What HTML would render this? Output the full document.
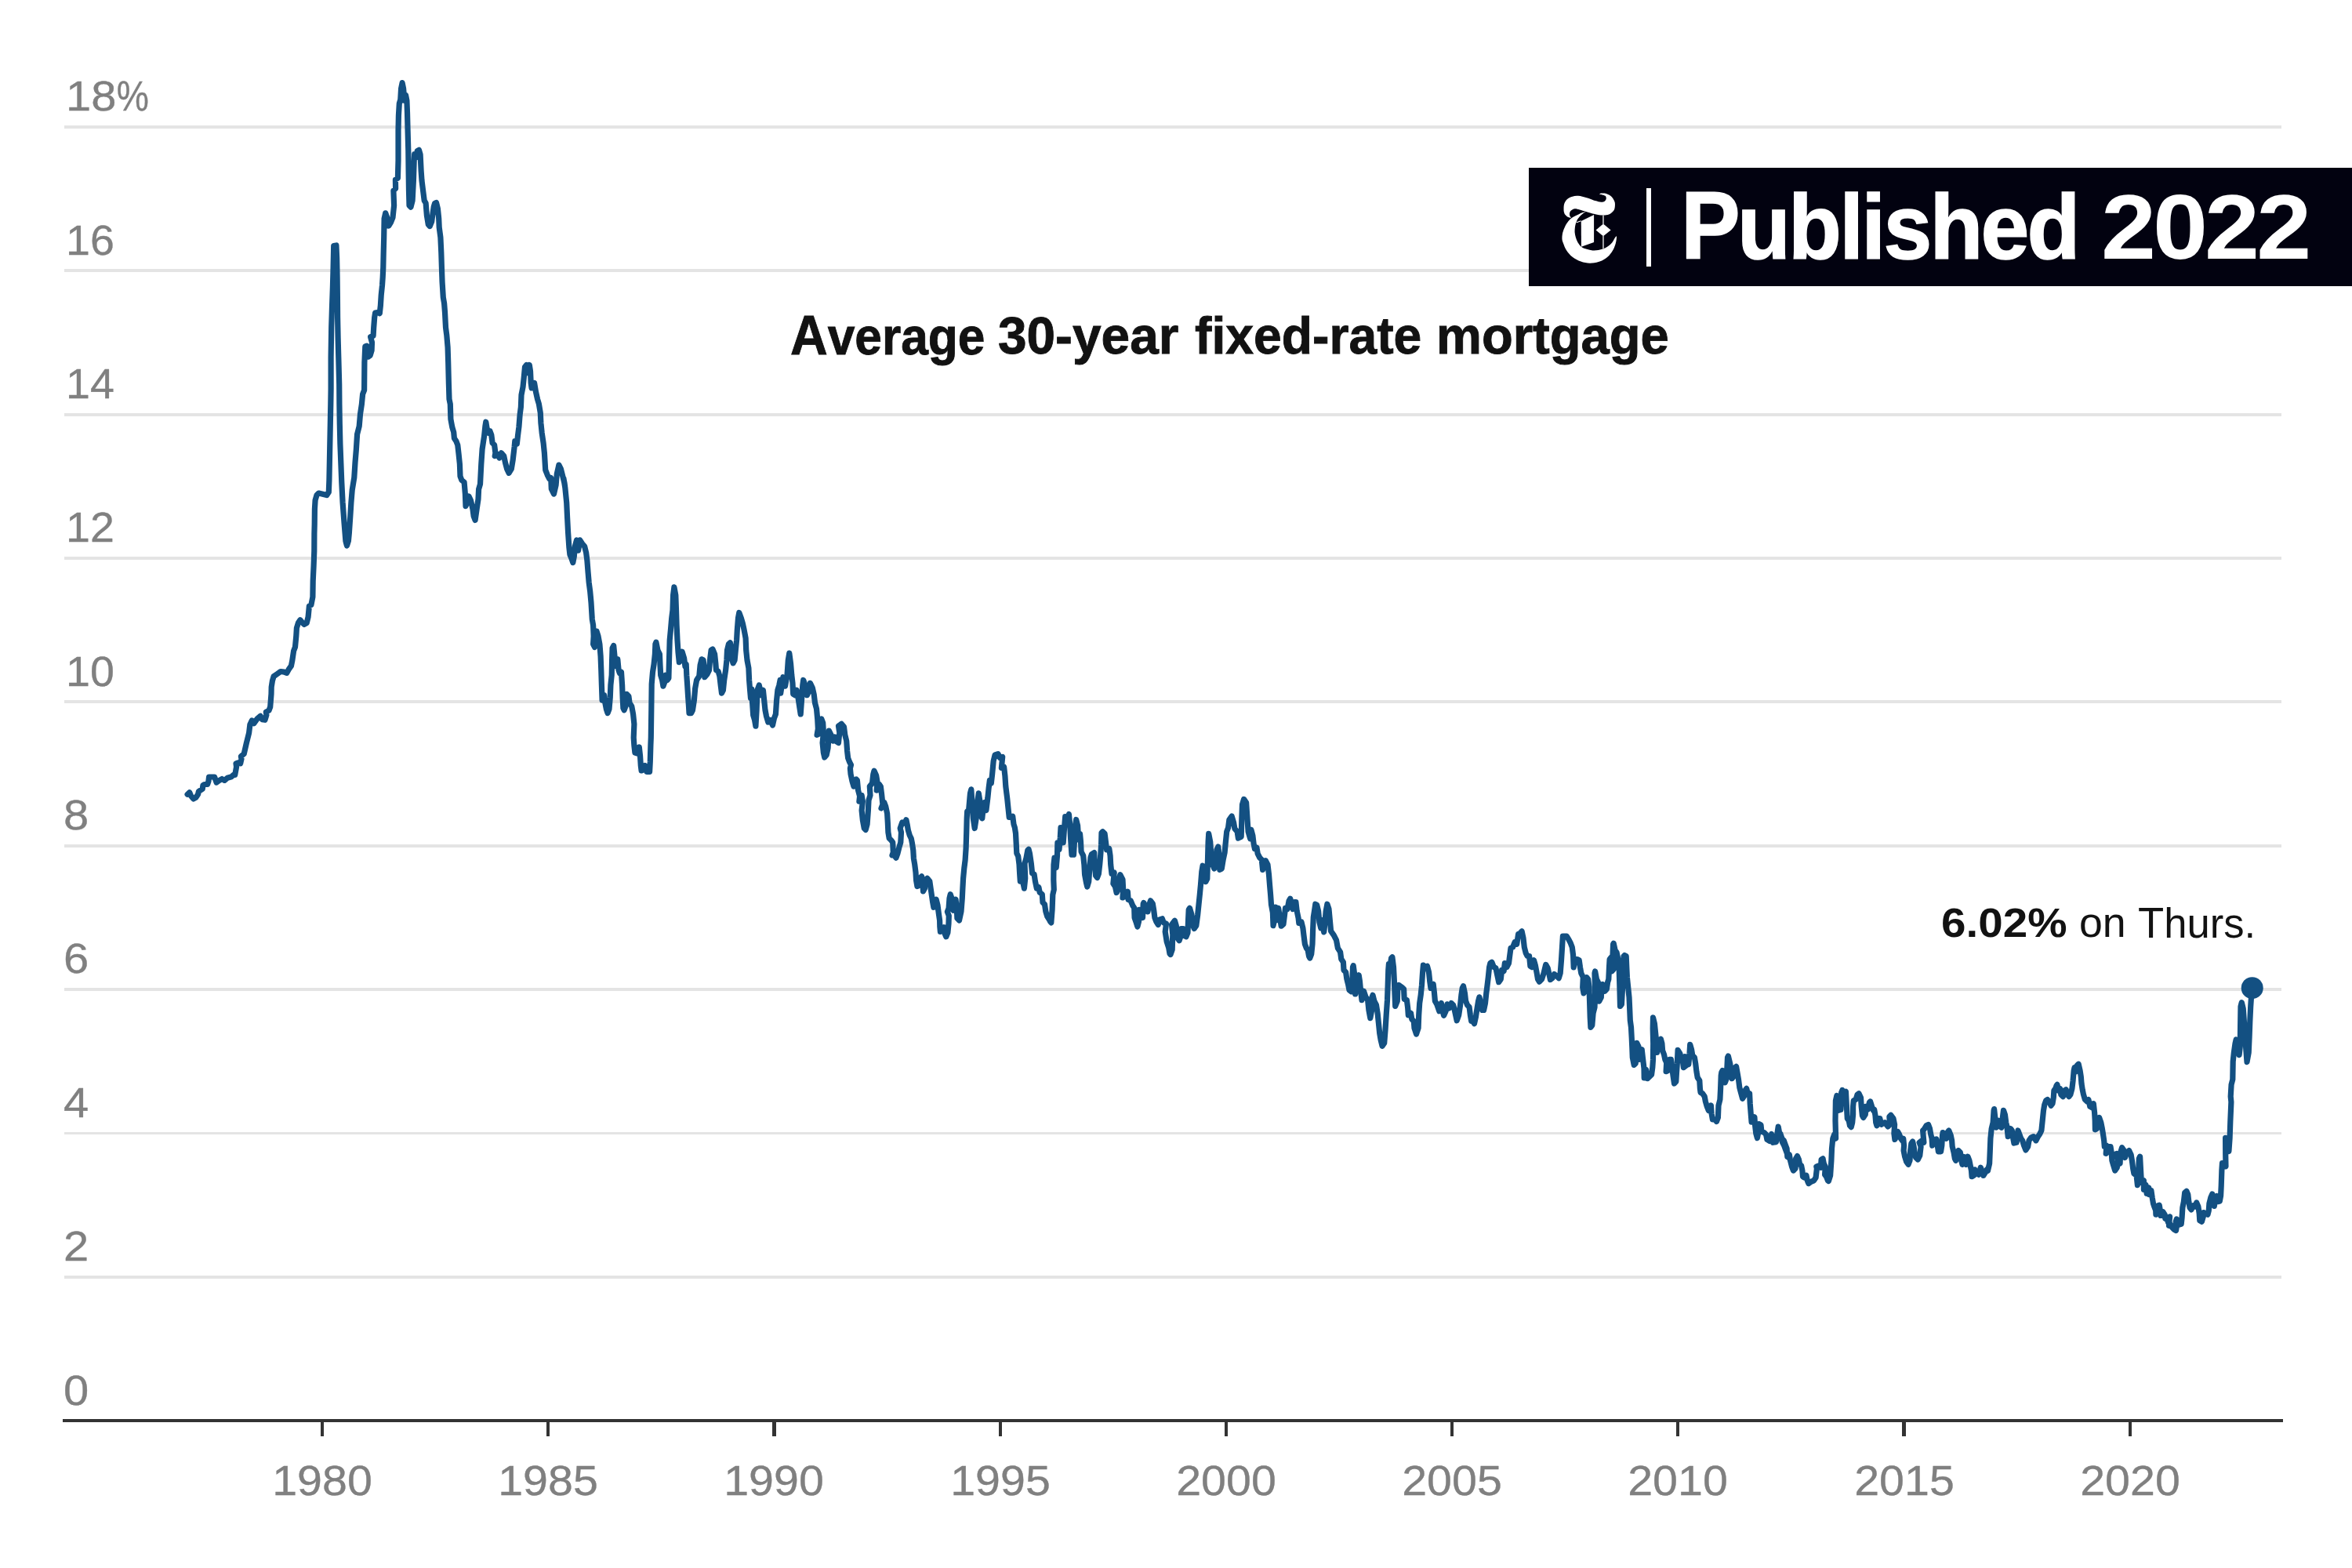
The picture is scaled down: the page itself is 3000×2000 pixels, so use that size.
<!DOCTYPE html>
<html><head><meta charset="utf-8"><title>Average 30-year fixed-rate mortgage</title>
<style>
html,body{margin:0;padding:0;background:#fff;}
body{width:3000px;height:2000px;position:relative;overflow:hidden;font-family:"Liberation Sans",sans-serif;}
.g{position:absolute;left:82px;width:2828px;height:3.8px;background:#e4e4e4;}
.yl{position:absolute;left:80px;font-size:53.6px;line-height:48px;height:48px;color:#808080;-webkit-text-stroke:0.35px #808080;white-space:nowrap;transform-origin:0 50%;transform:scaleX(1.08);}
.pc{display:inline-block;transform-origin:0 50%;transform:scaleX(0.80);margin-left:0px}
.ax{position:absolute;left:80px;width:2832px;top:1810.00px;height:4.2px;background:#333;}
.t{position:absolute;top:1812.10px;width:4.2px;height:19.8px;background:#333;}
.xl{position:absolute;top:1861.3px;width:200px;text-align:center;font-size:53.6px;line-height:54px;color:#808080;-webkit-text-stroke:0.35px #808080;transform:scaleX(1.07);}
svg{position:absolute;left:0;top:0;}
.ban{position:absolute;left:1950px;top:214px;width:1050px;height:150.5px;background:#020210;}
.sep{position:absolute;left:2100.1px;top:239.8px;width:5.6px;height:100.3px;background:#fff;}
.pub{position:absolute;left:2143.6px;top:214px;height:150px;line-height:150px;font-size:116px;font-weight:bold;color:#fff;white-space:nowrap;transform-origin:0 50%;transform:scaleX(0.9515);}
.ttl{position:absolute;left:1008px;top:378.2px;font-size:66px;line-height:100px;font-weight:bold;color:#121212;-webkit-text-stroke:0.9px #121212;white-space:nowrap;transform-origin:0 50%;transform:scaleX(0.96);}
.ann{position:absolute;left:2476px;top:1141.8px;font-size:52.5px;line-height:70px;color:#121212;white-space:nowrap;transform-origin:0 50%;}
</style></head><body>
<div class="g" style="top:1626.85px"></div>
<div class="g" style="top:1443.50px"></div>
<div class="g" style="top:1260.15px"></div>
<div class="g" style="top:1076.80px"></div>
<div class="g" style="top:893.45px"></div>
<div class="g" style="top:710.10px"></div>
<div class="g" style="top:526.75px"></div>
<div class="g" style="top:343.40px"></div>
<div class="g" style="top:160.05px"></div>
<div class="yl" style="top:1748.50px;left:81.4px">0</div>
<div class="yl" style="top:1565.15px;left:81.4px">2</div>
<div class="yl" style="top:1381.80px;left:81.4px">4</div>
<div class="yl" style="top:1198.45px;left:81.4px">6</div>
<div class="yl" style="top:1015.10px;left:81.4px">8</div>
<div class="yl" style="top:831.75px;left:84.3px;transform:scaleX(1.037)">10</div>
<div class="yl" style="top:648.40px;left:84.3px;transform:scaleX(1.037)">12</div>
<div class="yl" style="top:465.05px;left:84.3px;transform:scaleX(1.037)">14</div>
<div class="yl" style="top:281.70px;left:84.3px;transform:scaleX(1.037)">16</div>
<div class="yl" style="top:98.35px;left:84px">18<span class="pc">%</span></div>
<div class="ax"></div>
<div class="t" style="left:408.90px"></div><div class="xl" style="left:311.00px">1980</div>
<div class="t" style="left:697.12px"></div><div class="xl" style="left:599.23px">1985</div>
<div class="t" style="left:985.35px"></div><div class="xl" style="left:887.45px">1990</div>
<div class="t" style="left:1273.58px"></div><div class="xl" style="left:1175.68px">1995</div>
<div class="t" style="left:1561.80px"></div><div class="xl" style="left:1463.90px">2000</div>
<div class="t" style="left:1850.03px"></div><div class="xl" style="left:1752.12px">2005</div>
<div class="t" style="left:2138.25px"></div><div class="xl" style="left:2040.35px">2010</div>
<div class="t" style="left:2426.47px"></div><div class="xl" style="left:2328.57px">2015</div>
<div class="t" style="left:2714.70px"></div><div class="xl" style="left:2616.80px">2020</div>

<svg width="3000" height="2000" viewBox="0 0 3000 2000">
<path d="M239.1 1013.3 L241.7 1010.7 L243.6 1015.2 L246.8 1019.0 L250.0 1017.1 L252.5 1013.3 L253.4 1009.5 L258.3 1006.3 L258.9 1001.8 L260.8 1000.5 L264.6 1000.5 L265.9 996.7 L266.6 991.0 L273.6 991.0 L276.1 998.0 L279.9 995.4 L283.1 993.5 L286.3 995.4 L290.1 992.2 L295.3 990.7 L297.8 988.4 L299.7 988.4 L301.6 978.2 L301.0 973.8 L303.6 972.9 L306.7 973.8 L308.0 968.0 L307.4 964.8 L311.2 961.6 L314.4 947.6 L317.6 934.9 L318.9 924.0 L321.4 918.9 L323.9 922.7 L328.4 916.4 L332.2 913.2 L334.2 917.6 L338.0 918.3 L339.9 911.9 L339.3 908.1 L343.1 906.1 L344.7 901.7 L346.0 885.1 L346.2 876.2 L347.4 868.6 L349.1 862.8 L353.6 859.6 L358.0 856.5 L362.5 857.1 L365.7 858.4 L368.2 853.9 L371.4 849.4 L372.7 843.1 L374.6 830.3 L376.5 825.2 L377.8 811.2 L378.4 801.0 L380.4 794.6 L382.9 790.8 L385.5 794.0 L388.0 796.5 L391.2 794.6 L393.1 786.9 L394.4 772.9 L396.9 771.6 L398.9 761.4 L399.2 741.0 L400.1 721.9 L400.8 702.8 L400.9 681.3 L401.2 668.6 L401.4 649.4 L402.1 638.0 L404.0 631.6 L406.5 629.0 L411.6 630.3 L416.7 631.6 L419.3 627.8 L419.9 612.5 L420.3 592.0 L420.8 566.5 L421.3 541.0 L421.8 515.5 L422.1 496.4 L422.1 455.8 L422.7 417.6 L423.5 392.0 L424.4 366.5 L425.1 341.0 L425.7 313.6 L428.9 313.0 L429.6 328.3 L430.1 353.8 L430.4 379.3 L430.6 404.8 L431.1 430.3 L431.8 455.8 L432.7 490.0 L432.9 515.5 L433.3 541.0 L433.9 566.5 L435.8 615.5 L437.1 641.0 L439.0 666.5 L440.9 690.0 L442.5 696.0 L444.4 690.0 L445.4 679.3 L446.7 660.1 L447.9 641.0 L449.2 625.1 L451.8 609.1 L453.0 590.0 L454.4 572.9 L455.6 553.8 L458.2 543.6 L459.5 528.3 L461.4 515.5 L462.6 502.8 L464.6 497.6 L464.9 462.2 L465.8 441.8 L467.8 441.1 L469.7 455.2 L472.2 453.3 L474.1 446.9 L474.5 436.7 L472.6 429.7 L476.1 428.4 L476.7 417.6 L477.7 404.8 L478.6 399.1 L481.8 398.4 L484.3 399.7 L485.4 389.5 L486.2 376.7 L487.5 364.0 L488.2 353.8 L488.8 341.0 L489.2 321.9 L489.7 302.8 L490.1 278.8 L491.7 271.8 L493.7 277.5 L495.8 288.0 L498.4 283.9 L501.0 277.5 L502.6 262.2 L501.9 243.1 L504.6 240.5 L504.4 229.0 L507.4 227.1 L508.0 204.8 L508.0 166.5 L508.4 147.4 L509.3 132.1 L510.8 127.0 L511.6 113.0 L513.1 105.6 L514.6 113.0 L515.9 128.3 L517.5 121.2 L518.9 128.3 L519.5 143.6 L520.1 166.5 L520.8 192.0 L521.1 217.6 L521.5 243.1 L522.0 262.2 L524.0 264.1 L526.1 255.8 L527.4 230.3 L528.2 204.8 L528.7 196.5 L530.7 201.0 L532.2 192.7 L534.4 191.4 L536.1 197.1 L537.1 217.6 L538.0 230.3 L539.6 243.1 L541.2 255.8 L543.1 259.0 L544.4 274.9 L546.3 286.4 L548.2 288.5 L550.7 282.6 L552.0 272.4 L553.3 263.5 L554.6 259.4 L556.5 258.4 L558.4 266.0 L559.7 278.8 L560.2 290.0 L561.9 302.8 L562.8 321.9 L563.4 341.0 L564.1 360.1 L565.3 379.3 L566.6 386.9 L567.5 398.4 L568.5 417.6 L569.8 427.8 L571.1 443.1 L571.7 462.2 L572.4 490.0 L573.0 509.1 L574.3 515.5 L574.9 534.6 L576.8 544.9 L578.7 551.2 L579.4 558.9 L581.9 562.7 L583.8 567.8 L585.1 579.3 L586.4 592.0 L587.0 607.4 L588.9 612.5 L592.1 615.0 L593.4 630.3 L594.0 645.6 L595.9 640.5 L597.9 632.9 L600.4 638.0 L603.0 649.4 L604.2 658.4 L606.1 663.5 L608.1 649.4 L610.0 636.7 L610.6 623.9 L612.5 617.5 L613.8 592.0 L615.1 572.9 L617.6 556.3 L618.9 543.6 L619.8 538.2 L621.0 545.9 L623.0 552.2 L624.9 549.7 L626.8 554.8 L628.1 565.0 L630.6 567.5 L631.9 577.8 L631.2 581.6 L634.4 579.0 L637.0 584.1 L639.5 577.8 L642.7 581.6 L644.6 590.5 L646.6 598.2 L649.1 603.3 L652.3 598.2 L654.2 586.7 L656.1 570.1 L656.8 562.5 L659.3 566.3 L660.6 554.8 L661.9 544.6 L663.1 529.3 L664.4 519.1 L665.0 503.8 L667.0 493.6 L668.2 482.1 L669.5 468.1 L671.4 465.5 L673.3 475.7 L675.3 465.5 L676.5 473.2 L677.2 488.5 L678.1 494.9 L681.6 488.5 L683.5 499.9 L685.5 508.9 L687.4 515.3 L689.3 526.7 L689.9 539.5 L691.2 552.2 L693.1 565.0 L694.4 577.8 L695.7 599.4 L698.2 605.8 L700.8 610.9 L702.7 609.6 L703.3 623.7 L706.5 630.0 L709.1 618.6 L710.3 604.5 L712.9 593.1 L715.4 598.2 L718.0 608.4 L720.5 618.6 L718.9 610.4 L720.8 621.9 L722.7 641.0 L723.6 660.1 L724.6 679.3 L725.9 698.4 L726.9 707.4 L729.1 712.5 L730.8 717.5 L732.3 709.9 L733.3 697.1 L735.5 688.9 L737.6 702.2 L739.7 688.9 L742.5 693.3 L745.7 697.1 L747.6 704.8 L748.9 715.0 L750.1 730.3 L751.2 743.1 L752.7 754.5 L754.0 768.6 L755.3 790.0 L756.6 797.4 L757.2 811.4 L756.6 821.6 L758.5 825.5 L759.8 816.5 L761.0 805.0 L763.0 811.4 L764.9 821.6 L766.1 836.9 L766.8 854.8 L767.4 873.9 L768.1 893.1 L770.6 886.7 L771.9 896.9 L773.4 904.5 L775.1 909.6 L777.0 904.5 L778.3 889.2 L778.9 873.9 L780.2 861.2 L780.6 842.0 L781.1 826.7 L782.7 823.5 L784.0 836.9 L785.3 849.7 L787.8 840.8 L789.1 854.8 L790.4 858.6 L792.5 857.4 L793.6 873.9 L794.2 890.5 L794.9 903.3 L796.1 905.8 L798.0 900.7 L799.3 885.4 L801.9 888.0 L803.1 896.9 L805.7 900.7 L807.6 910.9 L808.9 923.7 L808.2 940.8 L808.9 951.0 L809.9 960.0 L813.0 961.0 L815.3 952.9 L816.5 963.8 L817.3 976.5 L818.1 982.9 L821.0 981.6 L822.6 976.5 L824.8 984.4 L828.6 984.4 L829.3 971.4 L829.9 951.0 L830.3 940.8 L830.8 905.8 L831.2 872.6 L832.5 857.4 L834.1 847.1 L835.4 834.4 L835.9 821.6 L836.9 819.1 L838.9 829.3 L841.4 834.4 L842.0 848.4 L842.7 861.2 L844.6 867.5 L845.9 875.2 L847.8 870.1 L849.1 861.2 L851.0 867.5 L852.9 865.0 L853.5 842.0 L854.2 816.5 L855.4 803.8 L856.7 788.5 L858.0 778.3 L858.6 759.1 L859.9 748.9 L861.8 759.1 L862.5 778.3 L863.1 797.4 L864.0 816.5 L865.0 831.8 L866.3 844.6 L868.2 842.0 L870.1 831.2 L872.6 839.5 L873.9 849.7 L875.2 847.1 L875.8 861.2 L876.7 873.9 L877.5 886.7 L878.4 899.4 L879.0 909.6 L881.6 909.6 L883.5 905.8 L885.4 893.1 L886.7 877.8 L888.6 867.5 L891.8 862.5 L893.1 848.4 L895.0 840.8 L897.1 842.0 L898.2 852.2 L898.8 863.7 L902.0 859.9 L904.5 854.8 L905.8 839.5 L907.1 829.3 L909.0 828.0 L911.6 834.4 L912.8 845.9 L913.5 854.8 L916.0 856.1 L917.9 862.5 L919.2 873.9 L920.5 884.1 L922.4 880.3 L923.7 867.5 L925.6 854.8 L926.9 842.0 L927.5 829.3 L929.4 821.6 L931.3 819.7 L933.2 829.3 L933.9 842.0 L935.1 845.9 L937.1 842.0 L938.3 829.3 L939.6 816.5 L940.3 803.8 L941.5 788.5 L942.8 781.5 L945.4 788.5 L947.3 794.9 L949.2 803.8 L951.1 814.0 L951.7 829.3 L953.0 842.0 L954.9 852.2 L955.6 867.5 L956.6 880.3 L957.5 890.5 L958.8 879.0 L959.4 893.1 L960.7 912.2 L962.6 918.6 L963.9 926.2 L965.1 905.8 L966.0 880.3 L968.3 873.9 L970.9 886.7 L973.4 880.3 L974.7 893.1 L976.0 905.8 L977.5 913.5 L979.8 921.1 L982.4 918.6 L985.5 925.0 L987.5 916.0 L989.4 910.9 L990.6 893.1 L991.9 880.3 L993.8 873.9 L995.1 867.5 L995.7 884.1 L998.9 863.7 L1001.5 875.2 L1004.0 861.2 L1005.3 842.0 L1006.8 833.1 L1008.5 845.9 L1009.8 861.2 L1011.0 871.4 L1011.7 885.4 L1014.2 886.7 L1016.1 880.3 L1018.1 890.5 L1020.0 903.3 L1021.2 910.9 L1022.5 893.1 L1023.8 873.9 L1024.7 867.5 L1027.0 873.9 L1029.5 886.7 L1032.1 880.3 L1033.4 871.4 L1036.3 877.4 L1038.3 886.3 L1039.5 896.5 L1041.5 904.2 L1042.7 916.9 L1043.4 929.7 L1042.1 937.4 L1044.6 936.1 L1046.2 922.0 L1047.8 916.9 L1049.7 922.0 L1050.4 934.8 L1049.1 947.5 L1050.4 960.3 L1051.7 966.0 L1054.2 962.9 L1056.1 953.9 L1056.8 941.2 L1057.4 932.2 L1060.0 937.4 L1062.5 945.0 L1065.0 939.9 L1067.6 946.3 L1069.5 947.5 L1070.8 934.8 L1069.5 925.9 L1071.4 924.6 L1073.3 923.3 L1076.5 927.1 L1077.8 937.4 L1079.7 945.0 L1080.6 957.8 L1081.6 966.7 L1083.5 971.8 L1085.5 975.6 L1084.4 980.0 L1085.1 987.6 L1087.0 996.6 L1088.9 1003.0 L1092.1 994.0 L1093.4 995.3 L1094.6 1008.1 L1096.6 1015.7 L1095.9 1022.1 L1099.1 1014.4 L1100.4 1022.1 L1099.1 1033.6 L1100.4 1046.3 L1102.3 1056.5 L1104.2 1058.4 L1106.1 1051.4 L1107.4 1033.6 L1108.0 1020.8 L1110.0 1014.4 L1109.3 1003.0 L1112.5 999.1 L1113.8 987.6 L1115.0 983.2 L1117.6 988.9 L1118.9 996.6 L1118.2 1008.1 L1121.4 1000.4 L1123.3 1003.0 L1124.6 1013.2 L1125.9 1025.9 L1124.0 1031.0 L1127.8 1023.4 L1129.7 1028.5 L1131.6 1037.4 L1132.3 1048.9 L1132.9 1061.6 L1134.2 1069.3 L1136.7 1071.8 L1138.7 1074.4 L1139.3 1087.1 L1138.0 1091.0 L1140.6 1091.0 L1142.9 1094.2 L1145.0 1088.4 L1146.9 1080.8 L1148.8 1074.4 L1149.5 1061.6 L1148.2 1056.5 L1150.8 1048.9 L1154.0 1050.2 L1155.9 1045.7 L1157.1 1051.4 L1158.4 1059.1 L1160.3 1065.5 L1162.2 1069.3 L1163.5 1075.7 L1164.8 1084.6 L1165.4 1094.8 L1166.7 1102.5 L1168.0 1112.7 L1168.6 1122.9 L1169.9 1130.5 L1172.5 1129.2 L1173.1 1120.3 L1175.6 1117.8 L1176.9 1126.7 L1177.5 1136.9 L1179.5 1133.1 L1180.1 1122.9 L1182.7 1120.3 L1185.8 1124.1 L1187.1 1133.1 L1188.4 1142.0 L1189.7 1150.9 L1190.9 1157.3 L1194.1 1147.1 L1196.0 1154.7 L1197.3 1165.0 L1198.6 1173.9 L1198.8 1182.0 L1199.4 1188.4 L1202.0 1186.9 L1204.2 1182.7 L1205.2 1191.0 L1206.8 1194.8 L1208.9 1189.7 L1210.0 1178.2 L1210.3 1168.0 L1208.4 1162.9 L1210.1 1158.6 L1211.0 1145.8 L1212.2 1140.7 L1214.5 1147.1 L1213.9 1158.6 L1215.8 1161.1 L1217.1 1152.2 L1219.0 1147.1 L1220.3 1158.6 L1220.9 1171.3 L1223.5 1173.9 L1226.0 1162.4 L1227.3 1145.8 L1227.9 1133.1 L1228.6 1120.3 L1229.8 1107.5 L1231.1 1097.3 L1232.1 1082.0 L1232.7 1062.9 L1233.2 1043.8 L1233.7 1034.8 L1235.6 1033.6 L1236.9 1018.3 L1237.5 1011.9 L1238.8 1006.8 L1240.0 1024.6 L1241.3 1043.8 L1243.2 1056.5 L1245.2 1043.8 L1246.4 1024.6 L1248.3 1011.9 L1250.3 1024.6 L1251.5 1041.2 L1252.8 1043.8 L1254.1 1031.0 L1256.0 1023.4 L1257.9 1033.6 L1259.8 1018.3 L1261.1 1005.5 L1262.4 995.3 L1264.3 999.1 L1265.6 987.6 L1267.2 970.5 L1269.1 962.9 L1273.0 961.6 L1275.5 966.7 L1278.7 965.4 L1277.4 979.4 L1280.6 978.2 L1281.9 989.6 L1282.8 1003.0 L1284.7 1018.3 L1286.0 1031.0 L1287.2 1042.5 L1291.7 1041.2 L1293.0 1051.4 L1294.3 1055.3 L1295.5 1062.9 L1296.2 1075.7 L1296.8 1088.4 L1298.7 1092.2 L1300.0 1102.5 L1300.6 1113.9 L1301.3 1124.1 L1303.2 1113.9 L1305.1 1126.7 L1306.4 1133.1 L1307.7 1120.3 L1307.0 1101.2 L1308.9 1094.8 L1310.8 1084.6 L1312.1 1083.3 L1313.4 1088.4 L1315.3 1101.2 L1316.6 1113.9 L1319.1 1115.2 L1320.4 1124.1 L1322.3 1133.1 L1324.9 1131.8 L1326.2 1138.2 L1329.3 1140.7 L1330.0 1150.9 L1332.5 1153.5 L1333.8 1162.4 L1335.7 1168.8 L1338.9 1173.9 L1339.5 1175.2 L1340.8 1176.9 L1342.1 1160.3 L1342.8 1141.2 L1344.3 1134.8 L1343.8 1122.0 L1344.0 1102.9 L1345.0 1094.0 L1347.2 1106.7 L1348.5 1091.4 L1348.9 1074.8 L1351.0 1083.8 L1352.3 1068.5 L1353.0 1055.7 L1356.2 1074.8 L1357.4 1058.3 L1358.7 1041.7 L1361.2 1045.5 L1363.4 1038.5 L1364.7 1051.9 L1365.7 1071.0 L1367.0 1090.2 L1369.5 1090.2 L1370.6 1071.0 L1371.5 1053.2 L1372.7 1045.5 L1374.6 1053.2 L1375.7 1071.0 L1377.5 1063.4 L1378.5 1073.6 L1379.1 1086.3 L1381.7 1091.4 L1382.9 1102.9 L1383.6 1115.7 L1385.5 1125.9 L1386.8 1131.0 L1388.7 1124.6 L1389.7 1109.3 L1391.0 1094.0 L1392.5 1089.5 L1395.7 1087.6 L1396.3 1102.9 L1397.6 1116.9 L1399.5 1119.5 L1401.4 1114.4 L1402.7 1102.9 L1403.7 1091.4 L1404.6 1077.4 L1405.0 1062.1 L1406.5 1060.8 L1409.1 1063.4 L1410.4 1073.6 L1411.6 1083.8 L1414.8 1082.5 L1416.1 1091.4 L1416.7 1102.9 L1418.0 1114.4 L1421.2 1113.1 L1419.9 1127.1 L1422.5 1131.0 L1424.1 1138.6 L1426.3 1134.8 L1426.9 1122.0 L1428.8 1115.7 L1432.0 1122.0 L1432.7 1134.8 L1432.0 1145.0 L1435.9 1142.5 L1438.4 1137.3 L1439.1 1147.5 L1442.2 1148.8 L1444.8 1155.2 L1446.7 1157.8 L1447.1 1170.5 L1449.3 1176.9 L1450.9 1182.0 L1452.5 1175.6 L1453.1 1160.3 L1455.6 1161.6 L1457.5 1170.5 L1458.2 1152.7 L1458.8 1151.4 L1462.0 1157.8 L1463.9 1162.9 L1465.8 1153.9 L1467.5 1148.8 L1470.3 1152.7 L1471.6 1160.3 L1472.9 1170.5 L1474.8 1175.6 L1477.3 1179.4 L1478.6 1173.1 L1482.4 1171.8 L1484.3 1176.9 L1487.5 1178.2 L1486.2 1188.4 L1488.2 1201.1 L1490.7 1208.8 L1492.0 1216.4 L1493.0 1217.5 L1495.2 1211.3 L1495.8 1192.2 L1494.5 1179.4 L1498.4 1174.3 L1500.3 1180.7 L1501.6 1196.0 L1504.1 1199.8 L1506.7 1192.2 L1506.7 1184.5 L1509.2 1184.5 L1510.5 1193.5 L1513.0 1194.7 L1515.0 1189.6 L1515.6 1173.1 L1516.2 1160.3 L1517.5 1158.4 L1520.0 1166.7 L1521.3 1179.4 L1523.2 1184.5 L1525.8 1180.7 L1527.7 1166.7 L1529.0 1153.9 L1530.3 1141.2 L1531.5 1128.4 L1532.8 1111.8 L1534.1 1104.2 L1535.4 1119.5 L1537.9 1124.6 L1539.8 1120.8 L1540.5 1096.5 L1541.1 1073.6 L1541.7 1063.4 L1543.7 1073.6 L1544.9 1091.4 L1546.8 1102.9 L1548.8 1108.0 L1551.3 1096.5 L1551.9 1083.8 L1553.8 1080.0 L1555.1 1091.4 L1555.8 1109.3 L1558.3 1108.0 L1560.2 1096.5 L1562.1 1087.6 L1563.4 1073.6 L1564.7 1060.8 L1566.6 1055.7 L1567.9 1045.5 L1571.1 1041.0 L1573.6 1049.3 L1574.9 1057.0 L1578.1 1060.8 L1579.4 1069.1 L1583.2 1067.2 L1583.8 1045.5 L1584.5 1026.4 L1586.6 1019.4 L1589.6 1023.8 L1590.2 1032.8 L1591.5 1051.9 L1592.1 1060.8 L1594.7 1069.7 L1595.9 1058.3 L1597.9 1065.9 L1599.1 1076.1 L1600.4 1082.5 L1603.0 1081.2 L1604.2 1088.9 L1606.8 1094.0 L1609.3 1096.5 L1610.6 1109.3 L1612.5 1101.6 L1614.4 1097.8 L1617.0 1102.9 L1618.5 1115.7 L1619.5 1128.4 L1620.6 1141.2 L1621.5 1153.9 L1623.4 1164.1 L1624.0 1180.7 L1624.0 1180.7 L1626.2 1171.0 L1626.8 1157.0 L1628.7 1173.6 L1630.6 1158.3 L1632.5 1171.0 L1634.2 1181.2 L1637.0 1178.7 L1638.3 1168.5 L1639.5 1158.3 L1642.1 1159.5 L1644.0 1149.3 L1645.7 1146.2 L1647.5 1153.2 L1649.1 1159.5 L1651.0 1150.6 L1652.9 1150.6 L1654.2 1162.1 L1656.1 1171.0 L1656.8 1177.4 L1660.0 1176.1 L1661.9 1183.8 L1663.1 1194.0 L1664.4 1204.2 L1666.3 1209.3 L1668.2 1211.8 L1669.5 1219.5 L1670.8 1222.0 L1672.7 1216.9 L1674.0 1204.2 L1674.6 1186.3 L1675.3 1169.7 L1676.5 1162.1 L1677.8 1153.2 L1679.7 1154.4 L1681.6 1162.1 L1682.9 1176.1 L1684.8 1183.8 L1686.1 1173.6 L1688.7 1188.9 L1689.9 1177.4 L1691.2 1162.1 L1692.9 1153.2 L1695.0 1159.5 L1696.3 1173.6 L1697.6 1187.6 L1701.3 1192.8 L1704.5 1199.1 L1706.4 1209.3 L1709.6 1214.4 L1710.8 1223.4 L1713.4 1227.2 L1714.0 1237.4 L1716.6 1240.0 L1717.9 1248.9 L1719.8 1256.5 L1721.0 1262.9 L1723.6 1264.8 L1724.9 1251.4 L1725.5 1233.6 L1726.2 1231.7 L1727.8 1243.8 L1728.7 1268.0 L1730.6 1251.4 L1733.2 1243.8 L1734.4 1251.4 L1735.5 1262.9 L1737.0 1275.7 L1739.5 1264.2 L1742.1 1271.8 L1744.6 1275.7 L1745.9 1288.4 L1747.8 1298.6 L1749.7 1288.4 L1750.0 1271.8 L1751.0 1269.3 L1752.9 1276.9 L1755.5 1282.0 L1757.1 1292.2 L1758.4 1305.0 L1759.7 1317.8 L1761.2 1326.7 L1763.1 1334.3 L1765.7 1330.5 L1767.0 1313.9 L1768.2 1294.8 L1769.5 1275.7 L1770.2 1256.5 L1770.8 1237.4 L1771.4 1229.7 L1773.3 1231.0 L1774.6 1222.1 L1775.9 1220.8 L1777.5 1233.6 L1778.4 1251.4 L1779.1 1269.3 L1779.7 1283.3 L1782.3 1276.9 L1782.9 1259.1 L1784.2 1256.5 L1788.0 1259.1 L1790.6 1261.6 L1791.2 1274.4 L1794.4 1275.7 L1795.7 1285.9 L1796.3 1294.8 L1799.5 1292.2 L1800.8 1299.9 L1803.3 1302.5 L1804.0 1311.4 L1806.5 1319.0 L1809.1 1311.4 L1809.7 1294.8 L1810.7 1279.5 L1812.2 1269.3 L1813.5 1256.5 L1814.5 1241.2 L1815.4 1231.0 L1818.0 1233.6 L1820.5 1232.3 L1822.5 1240.0 L1823.7 1251.4 L1825.0 1260.4 L1828.2 1255.3 L1829.5 1266.7 L1830.4 1276.9 L1832.7 1280.8 L1835.8 1289.7 L1838.4 1279.5 L1839.7 1288.4 L1841.6 1295.4 L1844.1 1289.7 L1846.0 1280.8 L1848.6 1285.9 L1851.2 1279.5 L1853.7 1282.0 L1855.6 1289.7 L1858.2 1301.8 L1860.7 1294.8 L1862.6 1282.0 L1863.9 1269.3 L1865.2 1260.4 L1866.5 1257.8 L1868.4 1266.7 L1869.6 1276.9 L1871.6 1282.0 L1874.1 1284.6 L1875.4 1294.8 L1876.7 1302.5 L1878.6 1302.5 L1880.5 1305.6 L1882.4 1297.3 L1883.7 1288.4 L1885.6 1276.9 L1886.9 1271.8 L1888.8 1279.5 L1890.7 1288.4 L1892.6 1288.4 L1894.5 1279.5 L1895.8 1266.7 L1897.1 1256.5 L1898.3 1246.3 L1899.6 1233.6 L1900.9 1228.5 L1902.8 1227.2 L1905.4 1233.6 L1907.9 1234.8 L1909.8 1243.8 L1911.7 1252.7 L1914.3 1248.9 L1915.6 1237.4 L1918.1 1238.7 L1919.4 1228.5 L1921.9 1233.6 L1924.5 1228.5 L1925.8 1218.3 L1927.0 1209.3 L1929.6 1208.1 L1932.1 1201.7 L1934.7 1204.2 L1936.6 1191.5 L1938.5 1190.8 L1941.1 1187.7 L1943.0 1196.6 L1944.3 1208.1 L1946.2 1215.7 L1948.1 1219.5 L1950.6 1219.5 L1951.9 1232.3 L1953.8 1233.6 L1956.4 1224.6 L1958.3 1231.0 L1960.2 1241.2 L1961.5 1248.9 L1963.4 1252.1 L1966.6 1248.9 L1969.1 1241.2 L1971.7 1230.4 L1974.2 1234.8 L1976.2 1243.8 L1977.4 1249.5 L1980.0 1247.6 L1982.5 1242.5 L1985.7 1245.0 L1988.3 1247.6 L1990.2 1241.2 L1991.5 1224.6 L1992.7 1205.5 L1993.4 1194.0 L1995.9 1194.0 L1998.3 1194.2 L2000.8 1198.1 L2003.4 1203.2 L2005.3 1208.3 L2006.6 1218.5 L2007.2 1233.8 L2009.1 1223.6 L2011.7 1223.6 L2014.2 1224.8 L2015.5 1233.8 L2016.8 1241.4 L2019.3 1246.5 L2018.7 1259.3 L2020.0 1266.9 L2022.5 1261.8 L2023.8 1246.5 L2025.7 1249.1 L2027.0 1259.3 L2027.6 1278.4 L2028.2 1297.5 L2028.9 1310.3 L2030.8 1307.8 L2032.1 1292.5 L2034.0 1284.8 L2034.6 1265.7 L2034.0 1241.4 L2034.6 1238.9 L2036.5 1249.1 L2038.4 1252.9 L2038.8 1272.0 L2039.7 1277.1 L2042.3 1272.0 L2042.9 1258.0 L2044.2 1255.5 L2046.7 1264.4 L2049.3 1261.8 L2050.6 1252.9 L2051.8 1249.1 L2052.5 1233.8 L2053.1 1223.6 L2055.0 1221.0 L2055.7 1238.9 L2058.2 1236.3 L2056.9 1221.0 L2057.6 1204.4 L2058.2 1203.2 L2060.1 1212.1 L2062.0 1214.6 L2063.9 1223.6 L2065.2 1236.3 L2065.9 1259.3 L2066.5 1283.5 L2068.4 1281.0 L2069.1 1268.2 L2070.3 1246.5 L2071.0 1219.7 L2072.2 1218.5 L2074.2 1219.7 L2074.8 1233.8 L2075.4 1246.5 L2076.7 1259.3 L2078.0 1272.0 L2078.6 1284.8 L2079.3 1301.4 L2080.5 1310.3 L2081.2 1323.1 L2081.8 1335.8 L2082.3 1348.9 L2084.2 1358.4 L2086.2 1356.5 L2087.0 1343.8 L2087.8 1330.4 L2090.0 1334.8 L2090.6 1351.4 L2092.5 1340.0 L2094.2 1338.7 L2095.5 1350.2 L2097.0 1362.9 L2097.2 1375.0 L2099.5 1364.2 L2101.4 1375.7 L2104.0 1373.1 L2106.6 1370.6 L2107.8 1361.6 L2108.5 1351.4 L2108.7 1331.0 L2108.2 1311.9 L2108.5 1297.9 L2110.4 1305.5 L2111.7 1318.3 L2112.9 1331.0 L2113.6 1342.5 L2116.1 1327.2 L2118.4 1325.3 L2119.9 1331.0 L2120.6 1340.0 L2122.5 1345.0 L2123.8 1351.4 L2125.7 1355.3 L2125.1 1366.7 L2127.6 1365.5 L2129.5 1351.4 L2131.4 1351.4 L2132.7 1361.6 L2134.0 1371.8 L2135.5 1382.0 L2137.8 1379.5 L2138.4 1369.3 L2139.3 1356.5 L2140.1 1339.3 L2142.9 1343.8 L2144.2 1352.7 L2146.1 1351.4 L2147.4 1361.6 L2150.6 1359.1 L2149.3 1347.6 L2151.8 1348.9 L2153.8 1357.8 L2155.0 1343.8 L2155.7 1332.3 L2157.6 1338.7 L2158.8 1346.3 L2161.4 1348.9 L2162.7 1356.5 L2163.9 1366.7 L2165.2 1374.4 L2167.8 1378.2 L2168.4 1388.4 L2169.1 1393.5 L2171.6 1394.8 L2174.2 1398.6 L2175.4 1405.0 L2177.3 1411.4 L2179.3 1416.5 L2182.4 1410.1 L2183.1 1420.3 L2184.4 1428.0 L2187.6 1428.0 L2189.5 1430.5 L2191.4 1425.4 L2192.0 1410.1 L2193.9 1402.5 L2194.6 1388.4 L2195.2 1371.8 L2195.8 1368.0 L2197.1 1365.5 L2199.7 1368.0 L2200.3 1380.8 L2202.2 1375.7 L2202.9 1361.6 L2203.5 1348.9 L2204.4 1347.0 L2206.7 1356.5 L2208.0 1366.7 L2209.2 1375.7 L2211.8 1371.8 L2213.1 1361.6 L2214.6 1360.4 L2216.2 1369.3 L2217.5 1376.9 L2218.8 1387.1 L2220.1 1392.2 L2222.6 1401.2 L2225.2 1397.3 L2225.8 1391.0 L2227.7 1388.4 L2229.6 1396.1 L2231.6 1394.8 L2232.2 1407.5 L2233.2 1420.3 L2234.1 1431.2 L2236.0 1428.0 L2237.9 1424.8 L2238.6 1435.6 L2239.8 1445.8 L2241.4 1451.6 L2243.0 1443.3 L2243.7 1433.7 L2246.0 1435.0 L2246.9 1443.3 L2250.1 1444.5 L2252.6 1447.1 L2253.9 1453.5 L2257.1 1455.4 L2259.6 1446.5 L2261.5 1457.3 L2265.4 1456.7 L2266.9 1445.8 L2268.2 1437.1 L2269.8 1445.8 L2271.7 1450.3 L2273.3 1456.7 L2275.6 1461.1 L2277.5 1466.2 L2279.4 1471.3 L2281.3 1476.4 L2270.8 1445.9 L2272.8 1452.2 L2275.3 1454.8 L2277.2 1459.9 L2279.1 1465.0 L2279.8 1475.2 L2282.3 1472.7 L2283.6 1480.3 L2285.5 1488.0 L2287.4 1493.1 L2290.0 1490.5 L2290.6 1477.8 L2292.5 1474.6 L2294.4 1479.0 L2295.7 1485.4 L2297.6 1486.7 L2298.9 1493.1 L2299.5 1500.7 L2301.4 1502.0 L2304.0 1499.4 L2305.3 1505.8 L2306.9 1509.6 L2310.4 1507.1 L2313.6 1505.8 L2316.1 1502.0 L2317.4 1490.5 L2316.8 1488.0 L2319.9 1486.7 L2322.5 1489.2 L2323.1 1479.0 L2325.1 1477.8 L2326.3 1484.1 L2328.2 1488.0 L2327.6 1498.2 L2329.5 1500.7 L2331.4 1505.8 L2332.4 1506.5 L2334.6 1499.4 L2335.9 1480.3 L2336.5 1465.0 L2337.8 1452.2 L2339.7 1447.1 L2341.6 1452.2 L2341.0 1429.3 L2341.4 1403.8 L2342.9 1397.4 L2344.8 1416.5 L2348.0 1415.3 L2348.7 1393.6 L2349.9 1390.4 L2352.5 1393.6 L2354.4 1392.3 L2355.0 1403.8 L2355.7 1416.5 L2356.3 1426.7 L2358.2 1429.3 L2359.5 1435.7 L2361.2 1437.6 L2362.7 1431.8 L2363.6 1421.6 L2363.6 1411.4 L2364.3 1403.8 L2367.1 1402.5 L2369.1 1396.1 L2371.0 1394.8 L2373.5 1400.0 L2374.2 1411.4 L2375.4 1422.9 L2376.7 1425.5 L2379.3 1421.6 L2379.9 1411.4 L2382.4 1415.3 L2384.4 1406.3 L2385.6 1405.0 L2387.6 1411.4 L2389.5 1416.5 L2390.7 1415.3 L2392.0 1422.9 L2392.7 1431.8 L2393.9 1435.7 L2395.8 1426.7 L2397.8 1426.7 L2399.7 1434.4 L2401.6 1433.1 L2404.1 1431.8 L2408.0 1436.9 L2410.5 1434.4 L2409.9 1424.2 L2411.8 1422.3 L2415.0 1426.7 L2416.6 1434.4 L2415.9 1445.9 L2416.9 1453.5 L2418.8 1449.7 L2420.5 1443.3 L2422.6 1447.1 L2424.5 1452.2 L2426.4 1454.8 L2427.7 1452.2 L2428.6 1461.2 L2428.1 1467.5 L2429.6 1475.2 L2431.6 1481.6 L2434.1 1485.2 L2436.0 1480.3 L2436.7 1467.5 L2437.9 1458.6 L2439.6 1456.1 L2441.1 1462.5 L2442.4 1472.7 L2443.7 1476.5 L2446.2 1479.0 L2448.8 1473.9 L2450.1 1462.5 L2448.1 1457.3 L2451.3 1454.8 L2453.9 1457.3 L2452.6 1442.0 L2453.9 1440.8 L2457.1 1435.7 L2459.6 1434.4 L2461.5 1439.5 L2462.8 1447.1 L2464.1 1452.2 L2464.7 1461.2 L2467.3 1453.5 L2469.8 1452.9 L2471.1 1459.9 L2472.4 1468.8 L2475.6 1468.8 L2476.8 1461.2 L2477.5 1448.4 L2478.1 1444.6 L2480.7 1449.7 L2482.6 1452.2 L2483.8 1444.6 L2485.8 1442.0 L2488.3 1448.4 L2489.6 1454.8 L2490.2 1462.5 L2492.1 1470.1 L2493.4 1477.8 L2494.7 1480.3 L2496.0 1470.1 L2497.9 1467.5 L2500.4 1470.1 L2501.7 1480.3 L2503.0 1485.4 L2504.3 1475.2 L2506.8 1476.5 L2508.1 1485.4 L2510.0 1475.2 L2511.9 1480.3 L2513.2 1486.7 L2514.5 1493.1 L2515.1 1500.7 L2517.7 1499.4 L2518.9 1491.8 L2521.5 1496.9 L2524.0 1498.2 L2526.3 1489.2 L2527.9 1493.1 L2529.8 1499.4 L2532.3 1495.6 L2534.2 1491.8 L2535.5 1493.1 L2537.6 1484.1 L2538.3 1467.5 L2538.9 1452.2 L2540.2 1439.5 L2542.1 1431.8 L2543.1 1416.5 L2543.6 1414.6 L2544.9 1426.7 L2546.2 1438.2 L2549.1 1429.3 L2551.0 1436.9 L2552.9 1438.2 L2554.2 1426.7 L2555.5 1416.3 L2557.4 1421.6 L2558.7 1431.8 L2559.9 1436.9 L2561.2 1449.7 L2562.5 1444.6 L2564.4 1439.5 L2566.3 1442.0 L2567.6 1451.0 L2568.9 1458.0 L2572.1 1457.3 L2573.3 1445.9 L2574.0 1442.0 L2575.9 1447.1 L2577.8 1452.2 L2579.7 1454.8 L2581.6 1461.2 L2583.9 1466.9 L2586.7 1462.5 L2588.0 1454.8 L2590.6 1451.0 L2593.8 1449.7 L2596.9 1454.8 L2599.5 1449.7 L2602.0 1445.9 L2603.9 1442.0 L2605.2 1429.3 L2606.5 1416.5 L2607.8 1408.9 L2609.7 1403.8 L2611.6 1402.5 L2614.2 1406.3 L2616.1 1410.2 L2618.0 1407.6 L2619.3 1400.0 L2619.9 1391.0 L2621.8 1388.5 L2623.1 1384.6 L2624.0 1383.4 L2625.6 1391.0 L2627.6 1388.5 L2628.8 1396.1 L2631.4 1398.7 L2633.3 1391.0 L2635.2 1389.7 L2637.1 1396.1 L2639.0 1398.7 L2640.9 1396.1 L2642.9 1388.5 L2644.1 1378.3 L2645.2 1365.5 L2646.1 1361.7 L2648.0 1366.8 L2649.2 1359.1 L2651.2 1357.2 L2653.1 1365.5 L2654.3 1373.2 L2655.0 1382.1 L2656.2 1389.7 L2657.5 1396.1 L2659.4 1402.5 L2662.0 1405.0 L2663.9 1402.5 L2665.8 1411.4 L2668.4 1412.7 L2670.3 1407.6 L2671.6 1419.1 L2672.2 1429.3 L2672.4 1440.8 L2674.7 1439.5 L2676.0 1431.8 L2677.6 1425.5 L2679.8 1431.8 L2681.1 1438.2 L2682.4 1445.9 L2683.7 1454.8 L2684.3 1462.5 L2686.9 1461.2 L2686.2 1471.4 L2688.8 1468.8 L2690.1 1462.5 L2692.0 1462.5 L2693.2 1470.1 L2693.9 1480.3 L2695.8 1486.7 L2697.7 1493.1 L2700.3 1489.2 L2701.5 1480.3 L2699.6 1471.4 L2704.1 1484.1 L2704.7 1470.1 L2706.6 1463.7 L2709.2 1467.5 L2710.5 1476.5 L2712.4 1471.4 L2715.6 1467.5 L2718.1 1472.7 L2719.4 1480.3 L2720.7 1490.5 L2721.9 1496.9 L2725.1 1499.4 L2726.4 1511.6 L2727.7 1493.1 L2728.3 1477.8 L2729.6 1475.2 L2730.2 1486.7 L2730.9 1499.4 L2731.5 1508.4 L2734.4 1505.9 L2734.4 1517.3 L2736.9 1511.0 L2738.2 1522.5 L2740.8 1514.8 L2741.4 1523.7 L2743.9 1518.6 L2745.2 1527.5 L2746.5 1535.2 L2747.8 1539.0 L2749.7 1544.1 L2749.9 1549.2 L2752.2 1537.8 L2754.2 1537.1 L2755.4 1544.1 L2756.1 1550.5 L2758.6 1545.4 L2761.2 1549.2 L2761.8 1554.3 L2764.4 1555.6 L2765.6 1559.4 L2767.6 1551.8 L2766.5 1563.3 L2768.8 1562.0 L2770.7 1565.8 L2773.3 1568.4 L2775.5 1569.6 L2776.5 1563.3 L2775.2 1558.2 L2776.2 1555.0 L2778.4 1556.9 L2779.7 1562.0 L2782.2 1561.3 L2783.1 1553.1 L2783.9 1540.3 L2785.4 1532.7 L2786.7 1521.2 L2789.0 1519.3 L2790.8 1523.7 L2791.8 1532.7 L2793.1 1540.3 L2795.0 1542.9 L2797.5 1537.8 L2799.4 1539.0 L2801.7 1533.9 L2803.9 1539.0 L2805.2 1548.0 L2805.8 1556.9 L2808.4 1558.2 L2810.3 1551.8 L2810.9 1546.7 L2814.1 1548.0 L2816.0 1549.2 L2817.3 1544.1 L2817.9 1535.2 L2819.8 1527.5 L2821.8 1523.1 L2823.7 1528.8 L2824.3 1538.4 L2826.2 1527.5 L2827.5 1525.6 L2829.4 1532.7 L2831.3 1532.0 L2832.6 1525.0 L2833.2 1512.8 L2833.9 1492.2 L2834.5 1483.5 L2839.0 1487.8 L2838.7 1471.8 L2838.6 1451.4 L2842.9 1468.6 L2844.1 1451.4 L2844.8 1431.0 L2845.9 1405.5 L2845.2 1398.6 L2846.1 1383.3 L2847.8 1376.9 L2848.2 1353.9 L2849.4 1342.5 L2851.0 1331.0 L2852.2 1325.9 L2854.2 1334.8 L2856.1 1345.6 L2857.3 1334.8 L2857.6 1309.3 L2858.0 1283.8 L2859.3 1278.7 L2861.2 1286.3 L2862.4 1302.9 L2863.7 1322.0 L2865.0 1341.2 L2866.0 1354.6 L2868.2 1342.5 L2869.1 1322.0 L2869.8 1302.9 L2870.7 1283.8 L2872.0 1264.6 L2872.7 1260.2" fill="none" stroke="#135082" stroke-width="7.2" stroke-linejoin="round" stroke-linecap="round"/>
<circle cx="2872.7" cy="1260.2" r="14" fill="#135082"/>
</svg>
<div class="ttl" style="left:1008px;transform:scaleX(0.943)"><span style="font-size:70px">A</span>verage</div><div class="ttl" style="left:1273px;transform:scaleX(0.996)">30-year</div><div class="ttl" style="left:1524px;transform:scaleX(0.974)">fixed-rate</div><div class="ttl" style="left:1832px;transform:scaleX(0.987)">mortgage</div>
<div class="ann" style="left:2475.5px;transform:scaleX(1.078)"><b>6.02%</b></div><div class="ann" style="left:2651.5px;top:1141.7px;font-size:54.5px;transform:scaleX(0.985)">on</div><div class="ann" style="left:2726.5px;top:1141.7px;font-size:54.5px;transform:scaleX(0.965)"><span style="font-size:56.3px">T</span>hurs.</div>
<div class="ban"></div><div class="sep"></div>
<svg width="3000" height="2000" viewBox="0 0 3000 2000"><g transform="translate(1970 225) scale(0.0829)" fill="#fff"><path d="M296.0 500.0 C296.7 478.0 296.0 445.0 305.0 420.0 C314.0 395.0 329.2 368.3 350.0 350.0 C370.8 331.7 401.7 318.3 430.0 310.0 C458.3 301.7 483.3 296.7 520.0 300.0 C556.7 303.3 606.7 317.5 650.0 330.0 C693.3 342.5 743.3 364.2 780.0 375.0 C816.7 385.8 845.8 393.8 870.0 395.0 C894.2 396.2 911.7 391.2 925.0 382.0 C938.3 372.8 948.3 353.7 950.0 340.0 C951.7 326.3 945.0 309.7 935.0 300.0 C925.0 290.3 904.2 285.7 890.0 282.0 C875.8 278.3 853.3 281.7 850.0 278.0 C846.7 274.3 853.3 262.2 870.0 260.0 C886.7 257.8 923.3 256.7 950.0 265.0 C976.7 273.3 1009.2 290.8 1030.0 310.0 C1050.8 329.2 1065.8 358.3 1075.0 380.0 C1084.2 401.7 1085.8 416.7 1085.0 440.0 C1084.2 463.3 1082.5 497.5 1070.0 520.0 C1057.5 542.5 1033.3 562.2 1010.0 575.0 C986.7 587.8 958.2 593.8 930.0 597.0 C901.8 600.2 872.5 598.2 841.0 594.0 C809.5 589.8 774.3 580.7 741.0 572.0 C707.7 563.3 674.3 552.0 641.0 542.0 C607.7 532.0 570.2 519.5 541.0 512.0 C511.8 504.5 488.5 494.5 466.0 497.0 C443.5 499.5 419.3 514.5 406.0 527.0 C392.7 539.5 388.3 557.8 386.0 572.0 C383.7 586.2 388.3 601.3 392.0 612.0 C395.7 622.7 412.5 633.3 408.0 636.0 C403.5 638.7 379.7 635.7 365.0 628.0 C350.3 620.3 330.7 602.7 320.0 590.0 C309.3 577.3 305.0 567.0 301.0 552.0 C297.0 537.0 295.3 522.0 296.0 500.0 Z"/><path d="M640.0 540.0 C639.8 537.3 606.5 550.2 590.0 556.0 C573.5 561.8 561.7 565.7 541.0 575.0 C520.3 584.3 487.7 600.3 466.0 612.0 C444.3 623.7 427.7 631.7 411.0 645.0 C394.3 658.3 381.8 670.8 366.0 692.0 C350.2 713.2 330.2 743.7 316.0 772.0 C301.8 800.3 288.5 830.3 281.0 862.0 C273.5 893.7 269.5 934.0 271.0 962.0 C272.5 990.0 278.5 1000.3 290.0 1030.0 C301.5 1059.7 316.7 1105.0 340.0 1140.0 C363.3 1175.0 393.3 1211.7 430.0 1240.0 C466.7 1268.3 515.0 1294.2 560.0 1310.0 C605.0 1325.8 651.7 1335.0 700.0 1335.0 C748.3 1335.0 805.0 1325.8 850.0 1310.0 C895.0 1294.2 936.7 1268.3 970.0 1240.0 C1003.3 1211.7 1029.2 1175.0 1050.0 1140.0 C1070.8 1105.0 1085.0 1065.8 1095.0 1030.0 C1105.0 994.2 1111.7 939.2 1110.0 925.0 C1108.3 910.8 1096.7 929.2 1085.0 945.0 C1073.3 960.8 1057.5 998.3 1040.0 1020.0 C1022.5 1041.7 1000.0 1060.3 980.0 1075.0 C960.0 1089.7 945.0 1098.0 920.0 1108.0 C895.0 1118.0 860.0 1129.7 830.0 1135.0 C800.0 1140.3 770.0 1142.5 740.0 1140.0 C710.0 1137.5 678.3 1129.2 650.0 1120.0 C621.7 1110.8 593.2 1103.0 570.0 1085.0 C546.8 1067.0 525.8 1036.7 511.0 1012.0 C496.2 987.3 488.5 962.0 481.0 937.0 C473.5 912.0 468.0 887.0 466.0 862.0 C464.0 837.0 466.5 809.5 469.0 787.0 C471.5 764.5 477.3 741.2 481.0 727.0 C484.7 712.8 486.8 712.8 491.0 702.0 C495.2 691.2 497.7 676.2 506.0 662.0 C514.3 647.8 526.8 632.0 541.0 617.0 C555.2 602.0 574.5 584.8 591.0 572.0 C607.5 559.2 640.2 542.7 640.0 540.0 Z"/><path d="M492 703 L561 680 L563 692 L497 716 Z"/><path d="M564 689 L761 592 L761 1012 L566 1084 Z"/><path d="M904 729 L1021 827 L904 919 L791 827 Z"/><rect x="893" y="590" width="22" height="150" fill="#b0b0b4"/><rect x="893" y="915" width="22" height="205" fill="#b0b0b4"/></g></svg>
<div class="pub" style="left:2144px;top:213.2px;font-size:122px;transform:scaleX(0.93);-webkit-text-stroke:1.5px #fff">P</div><div class="pub" style="left:2215.5px;top:214.6px;transform:scaleX(0.958);letter-spacing:-2.9px;-webkit-text-stroke:1.5px #fff">ublished</div><div class="pub" style="left:2680px;top:215px;transform:scaleX(1.086);letter-spacing:-3.7px">2022</div>
</body></html>
